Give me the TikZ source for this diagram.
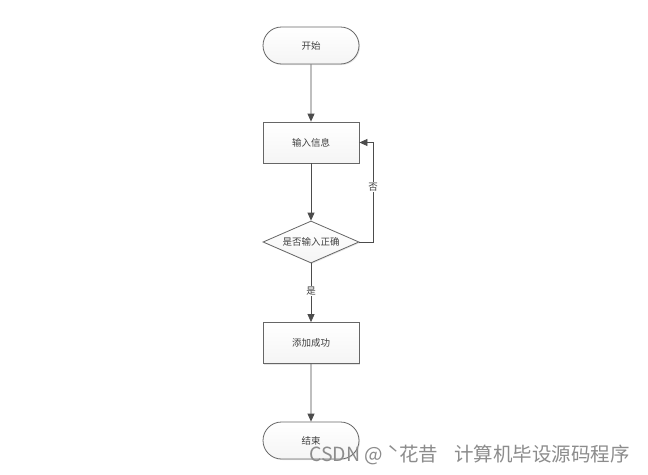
\documentclass[tikz,border=0pt]{standalone}
\usepackage{fontspec}
\setmainfont{Noto Sans CJK SC}
\usetikzlibrary{shapes.geometric,shapes.misc,arrows.meta,shadows}
\begin{document}
\begin{tikzpicture}[x=1pt,y=-1pt,
  base/.style={draw=black!60, line width=0.8pt, top color=white, bottom color=black!4, font=\fontsize{9.5}{11}\selectfont, text=black!75,
    drop shadow={shadow xshift=1pt, shadow yshift=-1pt, opacity=0.2}},
  term/.style={base, rounded rectangle, minimum width=96pt, minimum height=37pt, inner sep=0pt},
  proc/.style={base, rectangle, minimum width=96pt, minimum height=41pt, inner sep=0pt},
  dec/.style={base, diamond, aspect=2.3, minimum width=96pt, minimum height=42pt, inner sep=0pt},
  flow/.style={draw=black!70, line width=0.8pt, -{Triangle[length=8pt,width=7pt]}},
  lab/.style={fill=white, inner sep=1pt, font=\fontsize{9.5}{11}\selectfont, text=black!75}]
\useasboundingbox[fill=white] (0,0) rectangle (648,474);
\node[term] (start) at (311,45.5) {开始};
\node[proc] (input) at (311,142.5) {输入信息};
\node[dec, inner xsep=-6pt] (check) at (311,242) {是否输入正确};
\node[proc] (ok) at (311,343) {添加成功};
\node[term] (end) at (311,440.5) {结束};
\coordinate (c1) at (373,242);
\coordinate (c2) at (373,142.5);
\draw[flow] (start) -- (input);
\draw[flow] (input) -- (check);
\draw[flow] (check) -- (ok);
\draw[flow] (ok) -- (end);
\draw[flow] (check.east) -- (c1) -- (c2) -- (input.east);
\node[lab] (yes) at (311,291) {是};
\node[lab] (no) at (373,187) {否};
\node[anchor=west, text=black!45, font=\fontsize{19.5}{22}\selectfont, inner sep=0pt] (wm) at (309,455) {CSDN @ ˋ花昔\hspace{16pt}计算机毕设源码程序};
\end{tikzpicture}
\end{document}
